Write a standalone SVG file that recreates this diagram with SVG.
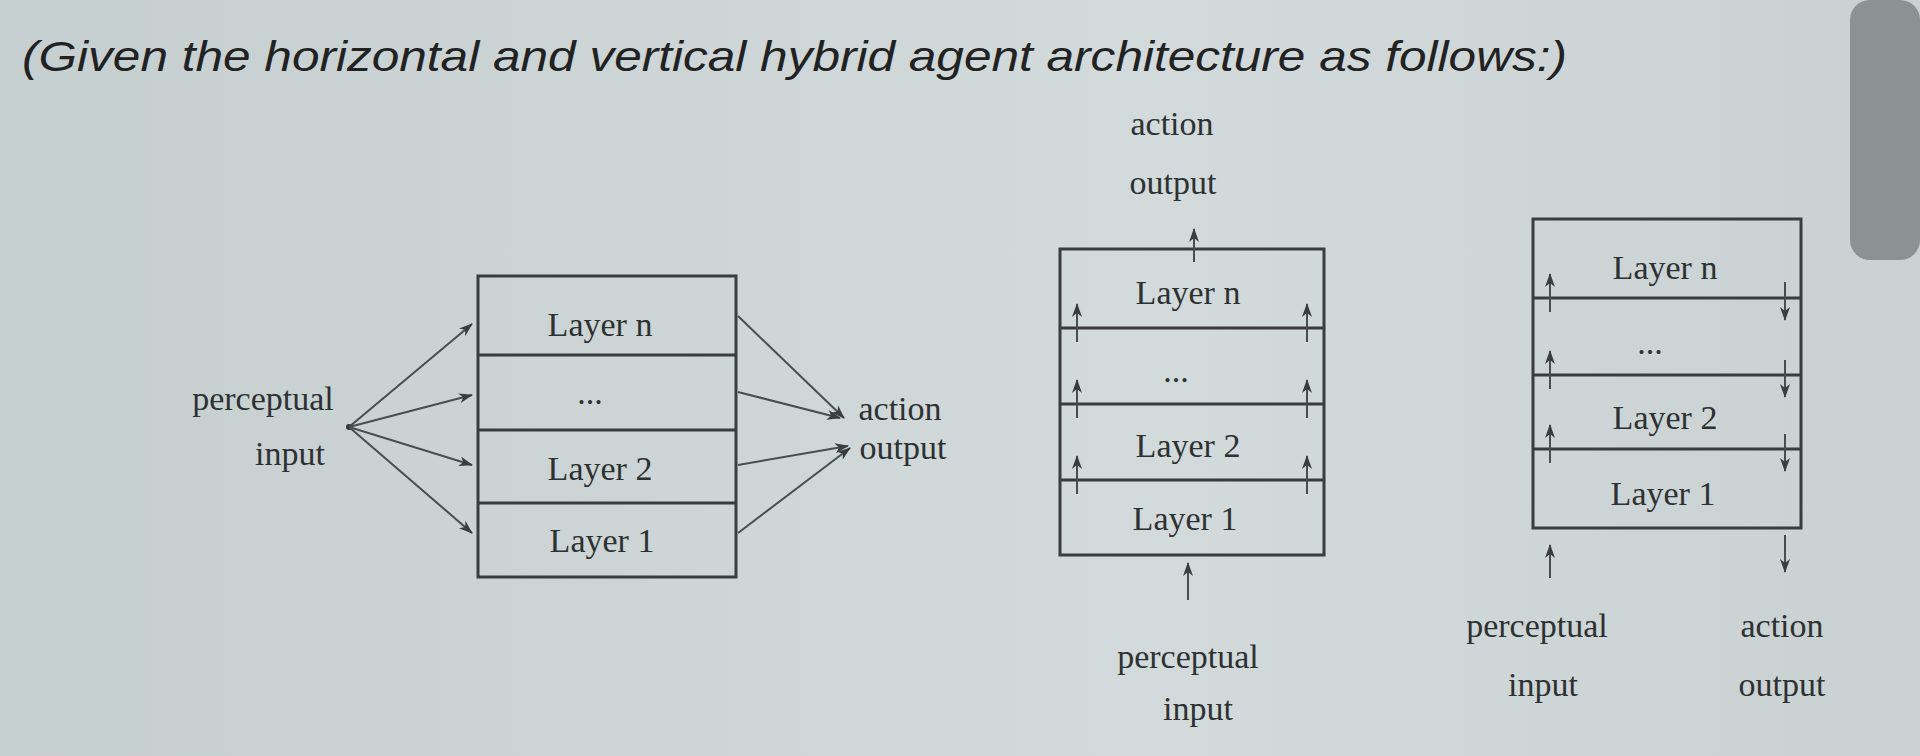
<svg xmlns="http://www.w3.org/2000/svg" width="1920" height="756" viewBox="0 0 1920 756">
<defs>
<marker id="ah" markerWidth="14" markerHeight="10" refX="13" refY="5" orient="auto" markerUnits="userSpaceOnUse"><path d="M0,0 L14,5 L0,10 L4,5 Z" fill="#3a3d3e"/></marker>
<linearGradient id="bg" x1="0" y1="0" x2="1" y2="0"><stop offset="0" stop-color="#c6cfd0"/><stop offset="0.6" stop-color="#d2dadb"/><stop offset="1" stop-color="#c9d1d2"/></linearGradient>
</defs>
<style>
.b{fill:none;stroke:#3a3d3e;stroke-width:3}
.c{fill:none;stroke:#4a4d4e;stroke-width:2}
.t{font-family:"Liberation Serif",serif;font-size:34px;fill:#2e3132;text-anchor:middle}
.h{font-family:"Liberation Sans",Arial,sans-serif;font-style:italic;font-size:42px;fill:#222}
</style>
<rect width="1920" height="756" fill="url(#bg)"/>
<rect x="1850" y="0" width="70" height="260" rx="20" fill="#8c9294"/>
<text class="h" x="22" y="71" textLength="1545" lengthAdjust="spacingAndGlyphs">(Given the horizontal and vertical hybrid agent architecture as follows:)</text>

<g id="horizontal">
<rect class="b" x="478" y="276" width="258" height="301"/>
<line class="b" x1="478" y1="355" x2="736" y2="355"/>
<line class="b" x1="478" y1="430" x2="736" y2="430"/>
<line class="b" x1="478" y1="503" x2="736" y2="503"/>
<text class="t" x="600" y="336">Layer n</text>
<text class="t" x="590" y="404" font-size="20">...</text>
<text class="t" x="600" y="480">Layer 2</text>
<text class="t" x="602" y="552">Layer 1</text>
<text class="t" x="263" y="410">perceptual</text>
<text class="t" x="290" y="465">input</text>
<text class="t" x="900" y="420" font-size="32">action</text>
<text class="t" x="903" y="459" font-size="32">output</text>
</g>
<g id="vertical">
<rect class="b" x="1060" y="249" width="264" height="306"/>
<line class="b" x1="1060" y1="328" x2="1324" y2="328"/>
<line class="b" x1="1060" y1="404" x2="1324" y2="404"/>
<line class="b" x1="1060" y1="480" x2="1324" y2="480"/>
<text class="t" x="1188" y="304">Layer n</text>
<text class="t" x="1176" y="382" font-size="20">...</text>
<text class="t" x="1188" y="457">Layer 2</text>
<text class="t" x="1185" y="530">Layer 1</text>
<text class="t" x="1172" y="135">action</text>
<text class="t" x="1173" y="194">output</text>
<text class="t" x="1188" y="668">perceptual</text>
<text class="t" x="1198" y="720">input</text>
</g>
<g id="twopass">
<rect class="b" x="1533" y="219" width="268" height="309"/>
<line class="b" x1="1533" y1="298" x2="1801" y2="298"/>
<line class="b" x1="1533" y1="375" x2="1801" y2="375"/>
<line class="b" x1="1533" y1="449" x2="1801" y2="449"/>
<text class="t" x="1665" y="279">Layer n</text>
<text class="t" x="1650" y="354" font-size="20">...</text>
<text class="t" x="1665" y="429">Layer 2</text>
<text class="t" x="1663" y="505">Layer 1</text>
<text class="t" x="1537" y="637">perceptual</text>
<text class="t" x="1543" y="696">input</text>
<text class="t" x="1782" y="637">action</text>
<text class="t" x="1782" y="696">output</text>
</g>
<g id="connectors">
<circle cx="349" cy="427" r="3" fill="#333"/>
<line class="c" x1="349" y1="427" x2="472" y2="324" marker-end="url(#ah)"/>
<line class="c" x1="349" y1="427" x2="472" y2="395" marker-end="url(#ah)"/>
<line class="c" x1="349" y1="427" x2="472" y2="465" marker-end="url(#ah)"/>
<line class="c" x1="349" y1="427" x2="472" y2="533" marker-end="url(#ah)"/>
<line class="c" x1="738" y1="316" x2="844" y2="418" marker-end="url(#ah)"/>
<line class="c" x1="738" y1="392" x2="840" y2="418" marker-end="url(#ah)"/>
<line class="c" x1="738" y1="465" x2="848" y2="446" marker-end="url(#ah)"/>
<line class="c" x1="738" y1="533" x2="850" y2="448" marker-end="url(#ah)"/>

<line class="c" x1="1194" y1="262" x2="1194" y2="229" marker-end="url(#ah)"/>
<line class="c" x1="1188" y1="600" x2="1188" y2="563" marker-end="url(#ah)"/>
<line class="c" x1="1077" y1="342" x2="1077" y2="304" marker-end="url(#ah)"/>
<line class="c" x1="1077" y1="418" x2="1077" y2="380" marker-end="url(#ah)"/>
<line class="c" x1="1077" y1="494" x2="1077" y2="456" marker-end="url(#ah)"/>
<line class="c" x1="1307" y1="342" x2="1307" y2="304" marker-end="url(#ah)"/>
<line class="c" x1="1307" y1="418" x2="1307" y2="380" marker-end="url(#ah)"/>
<line class="c" x1="1307" y1="494" x2="1307" y2="456" marker-end="url(#ah)"/>

<line class="c" x1="1550" y1="312" x2="1550" y2="274" marker-end="url(#ah)"/>
<line class="c" x1="1550" y1="389" x2="1550" y2="351" marker-end="url(#ah)"/>
<line class="c" x1="1550" y1="463" x2="1550" y2="425" marker-end="url(#ah)"/>
<line class="c" x1="1550" y1="578" x2="1550" y2="545" marker-end="url(#ah)"/>
<line class="c" x1="1785" y1="282" x2="1785" y2="320" marker-end="url(#ah)"/>
<line class="c" x1="1785" y1="360" x2="1785" y2="397" marker-end="url(#ah)"/>
<line class="c" x1="1785" y1="434" x2="1785" y2="471" marker-end="url(#ah)"/>
<line class="c" x1="1785" y1="535" x2="1785" y2="572" marker-end="url(#ah)"/>
</g>
</svg>
